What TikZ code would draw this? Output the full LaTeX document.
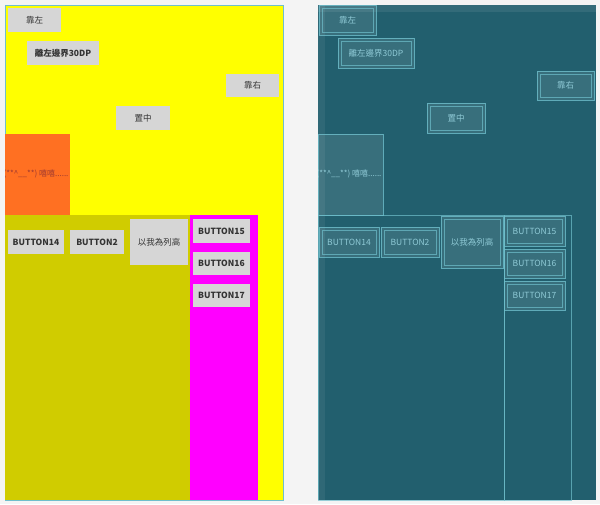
\documentclass[tikz,border=0pt]{standalone}
\usepackage{fontspec}
\setmainfont{Noto Sans CJK TC}
\definecolor{ylw}{HTML}{FFFF00}
\definecolor{org}{HTML}{FF7022}
\definecolor{olv}{HTML}{D0CC00}
\definecolor{mag}{HTML}{FF00FF}
\definecolor{btn}{HTML}{D6D6D6}
\definecolor{teal1}{HTML}{225F6E}
\definecolor{ln}{HTML}{6FBFCC}
\definecolor{rt}{HTML}{8FCAD6}
\definecolor{bg}{HTML}{F4F4F4}
\definecolor{otx}{HTML}{A03A30}
\begin{document}
\begin{tikzpicture}[x=1pt,y=-1pt,
  lbtn/.style={fill=btn,font=\fontsize{8.5}{9}\selectfont\bfseries,text=black!80},
  rbox/.style={fill=white,fill opacity=0.1,draw=ln,draw opacity=0.8,line width=0.8pt},
  rtxt/.style={text=rt,font=\fontsize{8.5}{9}\selectfont}]
\useasboundingbox (0,0) rectangle (600,504);
\fill[bg] (0,0) rectangle (600,504);
% left panel
\fill[ylw] (5,5) rectangle (283,500);
\draw[ln,line width=0.6pt] (5,5) rectangle (283,500);
\fill[org] (5,134) rectangle (70,215);
\fill[olv] (5,215) rectangle (190,500);
\fill[mag] (190,215) rectangle (258,500);
% right panel
\fill[teal1] (318,5) rectangle (596,500);
\fill[white,opacity=0.08] (318,5) rectangle (596,12);
\fill[white,opacity=0.06] (318,5) rectangle (325,500);
\newcommand\wid[6]{%
  \fill[btn] (#1,#2) rectangle (#3,#4);
  \node[lbtn,fill=none] (L#6) at ({(#1+#3)/2},{(#2+#4)/2}) {#5};
  \draw[rbox] ({#1+311},{#2-3}) rectangle ({#3+315},{#4+3});
  \draw[ln,opacity=0.7,line width=0.6pt] ({#1+314},#2) rectangle ({#3+312},#4);
  \node[rtxt] (R#6) at ({(#1+#3)/2+313},{(#2+#4)/2}) {#5};}
\wid{8}{8}{61}{32}{\mdseries 靠左}{a}
\wid{27}{41}{99}{65}{離左邊界30DP}{b}
\wid{226}{74}{279}{97}{\mdseries 靠右}{c}
\wid{116}{106}{170}{130}{\mdseries 置中}{d}
\wid{8}{230}{64}{254}{BUTTON14}{e}
\wid{70}{230}{124}{254}{BUTTON2}{f}
\wid{130}{219}{188}{265}{\mdseries 以我為列高}{g}
\wid{193}{219}{250}{243}{BUTTON15}{h}
\wid{193}{252}{250}{275}{BUTTON16}{i}
\wid{193}{284}{250}{307}{BUTTON17}{j}
% orange text
\begin{scope}
\clip (5,134) rectangle (70,215);
\node[font=\fontsize{8}{9}\selectfont,text=otx,anchor=east] (Lk) at (72,174) {(**\^{}\_\_**) 嘻嘻......};
\end{scope}
\draw[rbox] (318,134) rectangle (383,215);
\begin{scope}
\clip (318,134) rectangle (383,215);
\node[rtxt,font=\fontsize{8}{9}\selectfont,anchor=east] (Rk) at (385,174) {(**\^{}\_\_**) 嘻嘻......};
\end{scope}
\draw[ln,opacity=0.7] (318,215) rectangle (504,500);
\draw[ln,opacity=0.7] (504,215) rectangle (571,500);
\end{tikzpicture}
\end{document}
